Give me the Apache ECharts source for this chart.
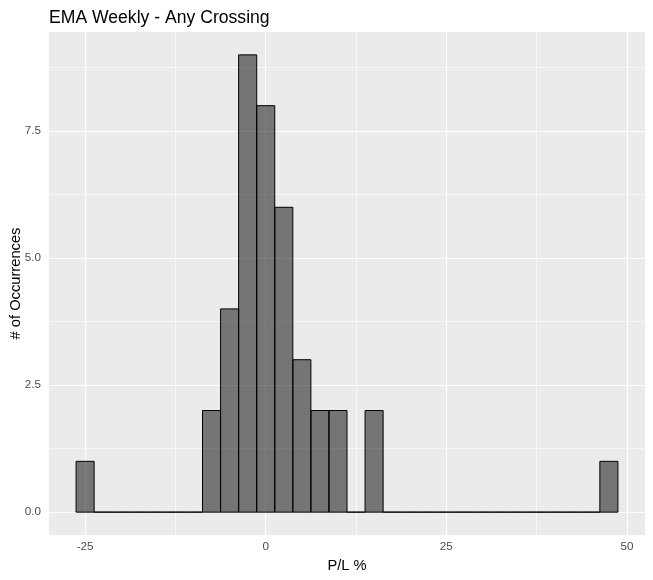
<!DOCTYPE html>
<html>
<head>
<meta charset="utf-8">
<script src="https://cdn.jsdelivr.net/npm/echarts@6/dist/echarts.min.js"></script>
<style>html,body{margin:0;padding:0;background:#fff}#c{width:653px;height:580px}</style>
</head>
<body>
<div id="c"></div>
<script>
// Histogram bins (bin width 2.5)
const binCenters = [-25,-22.5,-20,-17.5,-15,-12.5,-10,-7.5,-5,-2.5,0,2.5,5,7.5,10,12.5,15,17.5,20,22.5,25,27.5,30,32.5,35,37.5,40,42.5,45,47.5];
const binCounts  = [1,0,0,0,0,0,0,2,4,9,8,6,3,2,2,0,2,0,0,0,0,0,0,0,0,0,0,0,0,1];
const binWidth = 2.5;
const xTicks = [-25, 0, 25, 50];
const xMinor = [-12.5, 12.5, 37.5];
const yTicks = [0, 2.5, 5, 7.5];
const yMinor = [1.25, 3.75, 6.25, 8.75];

const chart = echarts.init(document.getElementById('c'), null, {renderer: 'canvas'});
const FONT = 'Liberation Sans, Arial, sans-serif';

const gridLines = [];
xMinor.forEach(v => gridLines.push({xAxis: v, lineStyle: {width: 0.6}}));
yMinor.forEach(v => gridLines.push({yAxis: v, lineStyle: {width: 0.6}}));
xTicks.forEach(v => gridLines.push({xAxis: v, lineStyle: {width: 1.2}}));
yTicks.forEach(v => gridLines.push({yAxis: v, lineStyle: {width: 1.2}}));

chart.setOption({
  backgroundColor: '#ffffff',
  animation: false,
  title: {
    text: 'EMA Weekly - Any Crossing',
    left: 44, top: 4,
    textStyle: {fontFamily: FONT, fontSize: 17.6, fontWeight: 'normal', color: '#000'}
  },
  grid: {left: 49, right: 8, top: 32, bottom: 45, show: true, backgroundColor: '#EBEBEB', borderWidth: 0,
    containLabel: false, outerBoundsMode: 'none'},
  xAxis: {
    type: 'value', min: -30, max: 52.5,
    name: 'P/L %', nameLocation: 'middle', nameGap: 23.5, nameMoveOverlap: false,
    nameTextStyle: {fontFamily: FONT, fontSize: 14.7, color: '#000'},
    axisLine: {show: false},
    axisTick: {show: true, length: 3.7, customValues: xTicks, lineStyle: {color: '#333333', width: 1}},
    axisLabel: {customValues: xTicks, fontFamily: FONT, fontSize: 11.7, color: '#4D4D4D', margin: 6},
    splitLine: {show: false}
  },
  yAxis: {
    type: 'value', min: -0.45, max: 9.45,
    name: '# of Occurrences', nameLocation: 'middle', nameGap: 26, nameMoveOverlap: false,
    nameTextStyle: {fontFamily: FONT, fontSize: 14.7, color: '#000'},
    axisLine: {show: false},
    axisTick: {show: true, length: 3.7, customValues: yTicks, lineStyle: {color: '#333333', width: 1}},
    axisLabel: {customValues: yTicks, fontFamily: FONT, fontSize: 11.7, color: '#4D4D4D', margin: 8,
      formatter: v => v.toFixed(1)},
    splitLine: {show: false}
  },
  series: [
    {
      type: 'line', data: [], z: 1, silent: true,
      markLine: {silent: true, symbol: 'none', label: {show: false}, z: 1,
        lineStyle: {color: '#ffffff', type: 'solid'}, data: gridLines, animation: false}
    },
    {
      type: 'custom', z: 3,
      data: binCenters.map((c, i) => [c, binCounts[i]]),
      renderItem: function (params, api) {
        const c = api.value(0), n = api.value(1);
        const p0 = api.coord([c - binWidth / 2, n]);
        const p1 = api.coord([c + binWidth / 2, 0]);
        return {
          type: 'rect',
          shape: {x: p0[0], y: p0[1], width: p1[0] - p0[0], height: p1[1] - p0[1]},
          style: {fill: 'rgba(0,0,0,0.5)', stroke: '#000', lineWidth: 1}
        };
      }
    }
  ]
});
</script>
</body>
</html>
